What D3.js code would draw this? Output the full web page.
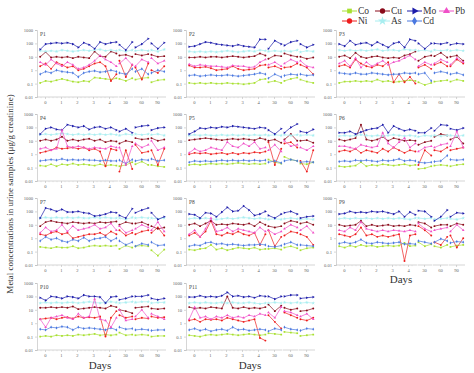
<!DOCTYPE html>
<html>
<head>
<meta charset="utf-8">
<script src="https://cdn.jsdelivr.net/npm/d3@7"></script>
<style>
  body { margin: 0; background: #fff; }
  svg { display: block; }
</style>
</head>
<body>
<svg id="chart" width="474" height="373"></svg>
<script>
// metals, drawn in this order
const metals = ["Co", "Ni", "Cu", "As", "Mo", "Cd", "Pb"];
const metalColors = ["#a8e030", "#ee1c1c", "#8a0a1a", "#a8eef0", "#1c1caa", "#4a78e0", "#f050c8"];

// sample positions on the broken day axis (0..4 days, then 30, 60, 90)
const samplePos = [-0.3, 0.04, 0.38, 0.72, 1.06, 1.4, 1.74, 2.08, 2.42, 2.76, 3.1, 3.44, 3.78, 4.12, 4.46,
  4.65, 5.05, 5.45, 5.65, 6.05, 6.45, 6.65, 7.05, 7.45];
const segments = [[0, 15], [15, 18], [18, 21], [21, 24]];
const dayTicks = [0, 1, 2, 3, 4, 5, 6, 7];
const dayLabels = ["0", "1", "2", "3", "4", "30", "60", "90"];
const concTicks = [0.01, 0.1, 1, 10, 100, 1000];
const panelNames = ["P1", "P2", "P3", "P4", "P5", "P6", "P7", "P8", "P9", "P10", "P11"];

// log10 of concentration, rows: Co, Ni, Cu, As, Mo, Cd, Pb
const P1 = [
  [-0.95,-0.8,-0.85,-0.75,-0.65,-0.75,-0.85,-0.9,-0.8,-0.85,-0.55,-0.6,-0.65,-0.7,-0.6, -0.65,-0.8,-0.6, -0.7,-0.6,-0.55, -0.9,-0.75,-0.7],
  [0.3,0.5,0.1,0.6,0.4,0.2,0.3,0.0,0.1,0.3,0.5,0.6,0.3,-0.8,-0.3, 0.7,-0.5,0.4, 0.2,-0.7,0.5, 0.0,-0.2,0.3],
  [1.0,1.35,0.95,1.0,0.95,1.0,0.9,1.0,0.95,0.9,1.4,1.05,1.0,1.4,1.25, 1.1,1.15,1.0, 1.2,1.1,1.2, 1.15,1.0,1.05],
  [1.45,1.4,1.45,1.4,1.5,1.45,1.4,1.45,1.5,1.45,1.5,1.55,1.45,1.5,1.45, 1.5,1.4,1.5, 1.45,1.5,1.45, 1.5,1.4,1.55],
  [1.55,1.95,2.0,2.05,2.0,2.05,1.95,1.7,2.05,1.9,1.6,2.1,1.95,2.05,2.1, 1.9,1.5,2.1, 1.7,1.95,2.35, 2.0,1.6,2.05],
  [-0.3,-0.1,-0.2,0.0,-0.1,-0.15,-0.2,-0.5,-0.2,-0.1,-0.05,-0.15,-0.1,0.0,-0.1, -0.2,-0.3,0.1, -0.1,0.1,-0.3, -0.2,0.0,-0.1],
  [0.6,0.4,0.8,0.5,0.3,0.6,0.4,0.1,0.2,0.4,0.7,1.1,0.8,0.6,0.3, 0.5,0.9,0.4, 0.3,0.8,0.6, 0.9,0.5,0.7]
];
const P2 = [
  [-0.95,-1.0,-0.95,-1.0,-0.95,-1.0,-1.0,-0.95,-1.0,-1.0,-1.05,-1.0,-0.95,-0.7,-0.65, -0.9,-0.8,-0.95, -0.8,-0.65,-0.55, -0.7,-0.85,-0.95],
  [0.35,0.2,0.2,0.25,0.15,0.0,0.05,0.1,0.3,0.1,0.0,0.05,0.1,0.35,0.4, 0.2,0.3,0.1, 0.2,0.25,0.5, 0.4,0.2,-0.3],
  [0.95,0.95,1.0,0.95,1.0,1.0,0.95,1.0,1.05,1.0,0.95,1.0,1.05,1.25,1.1, 0.85,1.1,1.05, 1.25,1.1,1.0, 1.0,0.85,0.95],
  [1.4,1.35,1.4,1.35,1.4,1.35,1.4,1.45,1.4,1.35,1.4,1.45,1.4,1.5,1.45, 1.4,1.45,1.4, 1.45,1.4,1.5, 1.35,1.45,1.4],
  [1.75,1.8,1.95,2.1,2.05,1.95,1.9,1.85,1.8,1.9,1.8,1.75,1.7,2.3,2.3, 1.6,2.2,1.95, 1.85,2.1,2.2, 1.95,1.7,1.9],
  [-0.4,-0.35,-0.45,-0.4,-0.35,-0.4,-0.4,-0.35,-0.4,-0.45,-0.4,-0.35,-0.3,-0.2,-0.3, -0.6,-0.3,-0.5, -0.4,-0.3,-0.35, -0.3,-0.4,-0.35],
  [0.45,0.3,0.4,0.35,0.3,0.3,0.25,0.2,0.35,0.3,0.3,0.2,0.25,0.6,0.8, 0.4,0.6,0.3, 0.5,0.8,0.6, 0.7,0.3,0.2]
];
const P3 = [
  [-0.95,-0.85,-0.85,-0.8,-0.85,-0.8,-0.85,-0.7,-0.85,-0.8,-0.9,-0.85,-0.8,-0.75,-0.8, -0.9,-1.1,-0.95, -0.85,-0.8,-0.75, -0.85,-0.7,-0.8],
  [0.3,0.4,0.2,0.8,0.5,0.3,0.2,0.4,0.3,0.6,-0.9,-0.3,-0.9,-0.5,-1.0, 0.2,0.4,0.1, 0.4,0.6,0.3, 0.3,0.8,0.5],
  [1.0,1.1,0.9,1.3,1.0,0.9,1.0,1.05,0.95,0.9,0.95,0.9,1.1,1.2,1.4, 0.7,1.0,1.1, 1.05,1.3,0.95, 1.0,1.1,0.7],
  [1.5,1.45,1.5,1.45,1.5,1.45,1.5,1.55,1.45,1.5,1.5,1.45,1.55,1.5,1.5, 1.45,1.5,1.4, 1.5,1.45,1.5, 1.45,1.5,1.45],
  [1.95,1.8,2.2,1.9,2.0,2.05,1.85,2.1,1.9,1.7,2.0,2.1,1.7,2.3,2.2, 2.0,1.6,2.0, 2.0,1.95,2.05, 1.9,2.0,1.95],
  [-0.2,-0.25,-0.3,-0.2,-0.3,-0.3,-0.2,-0.25,-0.3,-0.35,-0.3,-0.3,-0.2,-0.25,-0.2, -0.3,-0.2,-0.8, -0.2,-0.1,-0.2, -0.3,-0.2,-0.35],
  [0.5,0.7,0.3,0.9,0.2,0.6,0.3,0.5,0.7,0.4,0.6,0.7,0.9,1.1,0.8, 0.3,0.6,0.4, 0.5,0.8,0.6, 0.4,0.9,0.6]
];
const P4 = [
  [-0.85,-0.9,-0.75,-0.9,-0.75,-0.8,-0.7,-0.8,-0.75,-0.8,-0.85,-0.75,-0.85,-0.8,-0.85, -0.9,-0.8,-0.6, -0.75,-0.55,-0.8, -0.8,-0.9,-0.95],
  [0.1,0.2,0.3,0.5,0.4,0.45,0.5,0.4,0.5,0.3,0.4,0.2,-0.9,0.4,0.3, -1.3,0.3,-1.1, 0.7,0.1,0.2, 0.3,-0.8,0.4],
  [1.0,1.1,1.0,1.1,1.3,1.0,1.1,1.0,1.1,1.15,1.0,1.1,0.9,1.0,0.95, 0.8,1.0,0.9, 1.2,1.1,1.15, 1.2,1.0,1.1],
  [1.45,1.5,1.45,1.5,1.55,1.5,1.45,1.5,1.45,1.5,1.45,1.5,1.45,1.5,1.45, 1.4,1.5,1.45, 1.5,1.45,1.5, 1.45,1.5,1.4],
  [1.5,1.9,2.0,1.85,1.8,2.2,2.1,2.0,2.1,1.85,2.0,2.05,1.9,2.0,1.8, 1.7,1.9,1.6, 2.0,2.1,2.15, 1.8,1.95,2.0],
  [-0.5,-0.45,-0.4,-0.45,-0.35,-0.45,-0.4,-0.45,-0.4,-0.45,-0.45,-0.5,-0.45,-0.5,-0.5, -0.45,-0.7,-0.4, -0.5,-0.4,-0.45, -0.35,-0.5,-0.45],
  [0.4,0.5,0.3,0.4,1.8,0.6,0.5,0.6,0.5,0.4,0.5,0.45,0.4,0.6,0.5, 0.5,-0.8,0.6, 0.8,0.5,0.7, 1.0,0.3,0.5]
];
const P5 = [
  [-0.8,-0.75,-0.8,-0.75,-0.7,-0.75,-0.7,-0.75,-0.7,-0.65,-0.7,-0.75,-0.7,-0.75,-0.7, -0.4,-0.6,-0.7, -0.2,-0.4,-0.5, -0.7,-0.75,-0.6],
  [0.0,0.1,0.05,0.1,0.0,0.05,0.1,0.0,0.1,0.0,0.1,0.05,0.15,0.1,0.2, 0.9,-0.8,0.4, 0.8,0.9,0.5, -0.5,-1.3,0.3],
  [1.05,1.1,1.15,1.2,1.15,1.1,1.05,1.1,1.15,1.1,1.15,1.1,1.05,1.2,1.1, 1.0,1.1,0.85, 1.1,1.5,1.0, 1.0,1.05,0.85],
  [1.4,1.45,1.4,1.45,1.4,1.4,1.45,1.4,1.45,1.4,1.45,1.4,1.45,1.4,1.45, 1.4,1.45,1.4, 1.45,1.4,1.45, 1.4,1.45,1.4],
  [1.5,1.7,1.95,1.9,2.0,1.95,2.05,2.0,2.1,2.05,2.0,1.95,1.9,2.0,1.95, 1.8,1.5,1.9, 1.6,2.0,2.25, 1.7,1.6,1.85],
  [-0.6,-0.5,-0.55,-0.5,-0.55,-0.5,-0.45,-0.5,-0.45,-0.5,-0.45,-0.5,-0.45,-0.5,-0.45, -0.6,-0.5,-0.65, -0.5,-0.4,-0.5, -0.6,-0.55,-0.6],
  [0.1,0.4,0.2,0.3,0.5,0.4,0.3,0.9,0.6,0.5,0.8,0.6,0.9,0.4,0.5, 0.3,0.7,0.2, 1.0,0.6,0.7, 0.5,0.3,0.6]
];
const P6 = [
  [-0.9,-0.95,-0.9,-0.85,-0.6,-0.9,-0.8,-0.85,-0.75,-0.8,-0.85,-0.8,-0.75,-0.85,-0.8, -1.1,-1.05,-0.9, -0.85,-0.8,-0.85, -0.9,-0.8,-0.75],
  [0.2,0.3,0.2,0.4,0.1,0.3,0.2,0.1,0.4,0.2,0.5,0.3,0.1,0.3,0.2, -0.8,0.3,-0.1, 0.3,0.2,0.5, 0.3,0.4,0.5],
  [1.1,1.0,1.1,1.2,2.2,1.1,1.0,1.1,1.3,1.0,1.2,1.1,1.0,1.05,1.0, 0.7,0.9,1.0, 1.3,1.5,1.4, 1.1,1.3,0.8],
  [1.35,1.4,1.35,1.4,1.45,1.4,1.35,1.4,1.35,1.4,1.45,1.4,1.35,1.4,1.35, 1.3,1.4,1.35, 1.4,1.35,1.4, 1.4,1.35,1.4],
  [1.6,1.6,1.7,1.5,1.65,1.8,1.9,1.95,2.2,1.6,2.1,1.9,1.75,1.85,1.75, 1.6,1.6,1.95, 1.75,2.2,2.15, 1.9,1.8,1.95],
  [-0.55,-0.5,-0.55,-0.45,-0.5,-0.45,-0.5,-0.55,-0.45,-0.5,-0.45,-0.35,-0.5,-0.45,-0.5, -0.6,-0.65,-0.6, -0.55,-0.5,-0.1, -0.4,-0.45,-0.4],
  [0.6,0.6,0.5,0.4,0.7,0.6,0.5,0.6,1.6,0.8,0.5,0.9,1.2,0.5,0.8, 0.2,0.5,0.6, 0.5,0.7,0.8, 0.6,1.7,0.5]
];
const P7 = [
  [-0.65,-0.7,-0.75,-0.65,-0.7,-0.7,-0.6,-0.75,-0.7,-0.6,-0.55,-0.6,-0.55,-0.6,-0.55, -0.8,-0.55,-0.7, -0.6,-0.55,-0.6, -0.9,-1.3,-0.85],
  [0.3,0.2,0.4,0.5,0.3,0.4,0.0,0.1,0.2,0.3,0.3,0.4,0.2,0.5,0.3, 0.6,0.2,0.4, 0.3,0.5,0.6, 0.4,0.8,0.2],
  [0.9,1.2,1.3,1.2,1.15,1.1,1.2,1.15,1.1,1.15,1.1,1.2,1.15,1.2,1.25, 1.0,1.2,1.1, 1.1,1.2,1.0, 0.9,0.7,0.8],
  [1.5,1.55,1.5,1.55,1.5,1.55,1.5,1.55,1.5,1.5,1.55,1.5,1.55,1.5,1.5, 1.5,1.4,1.55, 1.5,1.55,1.5, 1.5,1.45,1.5],
  [1.5,2.25,2.15,2.0,2.15,1.95,1.95,2.0,1.9,1.85,1.65,1.7,1.8,1.95,1.9, 1.7,1.5,2.2, 1.9,2.1,2.25, 1.9,1.4,1.6],
  [-0.2,0.1,-0.1,0.0,-0.2,-0.3,-0.1,-0.2,0.05,-0.2,-0.05,0.0,0.1,-0.2,0.0, -0.2,-0.5,-0.3, -0.6,-0.4,-0.5, -0.3,-0.55,-0.5],
  [0.4,0.8,0.5,0.6,1.0,0.5,0.9,0.6,0.7,0.8,1.0,0.7,0.8,1.1,0.6, 0.9,0.4,0.6, 0.7,1.0,0.8, 0.6,1.2,0.5]
];
const P8 = [
  [-0.85,-0.9,-0.8,-0.75,-0.5,-0.85,-0.75,-0.9,-0.8,-0.7,-0.75,-0.8,-0.7,-0.85,-0.8, -0.8,-0.75,-0.85, -0.7,-0.6,-0.75, -0.9,-0.75,-0.7],
  [0.2,0.4,0.1,0.5,1.3,0.3,0.2,0.4,0.3,0.5,0.3,0.2,0.4,-0.5,0.3, 0.6,-0.6,0.1, 0.2,0.5,0.4, 0.3,0.1,-0.5],
  [1.0,1.1,0.9,1.1,1.3,1.0,1.05,1.0,1.1,1.05,1.0,1.1,0.9,1.2,1.0, 0.9,0.8,0.9, 1.1,1.3,1.2, 1.1,1.2,1.0],
  [1.45,1.5,1.45,1.5,1.45,1.4,1.45,1.5,1.45,1.5,1.55,1.5,1.45,1.5,1.45, 1.4,1.45,1.4, 1.45,1.5,1.45, 1.4,1.45,1.4],
  [1.8,1.75,1.5,1.9,1.85,1.6,1.95,2.3,2.0,2.05,2.4,2.1,1.7,1.8,2.0, 1.7,1.5,1.8, 1.9,2.0,1.8, 1.5,1.6,1.65],
  [-0.6,-0.5,-0.55,-0.35,-0.3,-0.45,-0.4,-0.5,-0.45,-0.5,-0.55,-0.5,-0.5,-0.45,-0.5, -0.6,-0.65,-0.55, -0.45,-0.3,-0.5, -0.5,-0.55,-0.6],
  [0.3,0.6,0.1,0.7,1.5,0.5,0.6,0.8,0.5,0.7,0.6,0.5,0.4,0.8,0.5, 0.6,0.3,0.5, 0.7,1.0,0.8, 0.6,0.9,0.4]
];
const P9 = [
  [-0.6,-0.7,-0.55,-0.65,-0.5,-0.6,-0.55,-0.65,-0.6,-0.55,-0.6,-0.55,-0.35,-0.6,-0.55, -0.3,-0.6,-0.45, -0.6,-0.7,-0.5, -0.65,-0.55,-0.5],
  [0.3,0.2,0.1,0.3,0.8,0.2,0.3,0.1,0.2,0.1,0.2,0.3,-1.7,0.2,0.3, 0.9,0.6,0.2, -0.3,-0.5,0.1, 0.2,-0.7,0.0],
  [1.0,0.9,0.95,1.0,1.3,0.9,1.0,0.9,0.95,1.0,0.9,0.95,0.9,1.0,0.95, 1.2,1.1,0.8, 0.9,1.0,1.0, 0.9,1.1,1.0],
  [1.45,1.5,1.45,1.5,1.45,1.5,1.45,1.5,1.45,1.5,1.45,1.5,1.45,1.4,1.5, 1.5,1.45,1.5, 1.4,1.45,1.5, 1.45,1.4,1.5],
  [1.8,1.85,2.0,1.9,1.95,1.9,2.0,1.95,2.0,1.9,1.8,2.0,1.6,1.95,1.75, 2.05,2.0,1.6, 1.3,1.6,2.1, 1.6,1.9,1.85],
  [-0.4,-0.3,-0.4,-0.3,-0.1,-0.35,-0.4,-0.3,-0.35,-0.4,-0.35,-0.3,-0.45,-0.4,-0.45, -0.2,-0.3,-0.4, -0.3,-0.05,-0.2, -0.35,-0.25,-0.3],
  [0.6,0.5,0.8,0.6,1.2,0.7,0.6,0.5,0.6,0.5,0.6,0.55,0.5,0.6,0.5, 1.1,0.7,0.5, 0.6,0.7,0.8, 0.5,1.0,0.6]
];
const P10 = [
  [-1.0,-0.95,-1.0,-0.9,-0.95,-0.9,-0.95,-0.85,-0.9,-0.85,-0.8,-0.9,-0.85,-0.9,-0.85, -0.7,-0.9,-0.85, -0.9,-0.85,-0.9, -1.0,-0.95,-0.95],
  [0.3,0.35,0.4,0.3,0.4,0.45,0.35,0.5,0.4,0.45,0.4,0.5,-1.0,0.4,0.9, 0.6,0.4,0.5, 0.3,0.4,0.35, 0.5,0.4,0.45],
  [1.15,1.15,1.2,1.15,1.2,1.15,1.25,1.05,1.1,1.15,1.2,1.15,1.1,1.3,1.2, 1.0,0.9,0.75, 1.15,1.2,1.25, 1.1,1.05,1.1],
  [1.5,1.55,1.5,1.55,1.5,1.55,1.55,1.5,1.55,1.6,1.55,1.5,1.55,1.6,1.55, 1.5,1.55,1.6, 1.55,1.6,1.6, 1.5,1.55,1.55],
  [1.9,1.7,2.0,1.95,1.85,2.0,1.95,1.85,2.1,2.0,2.0,1.95,1.5,1.95,2.0, 1.75,1.85,2.0, 2.0,2.0,2.1, 1.85,1.75,1.85],
  [-0.45,-0.5,-0.3,-0.35,-0.25,-0.3,-0.5,-0.3,-0.4,-0.35,-0.4,-0.45,-0.5,-0.35,-0.5, -0.3,-0.45,-0.4, -0.5,-0.45,-0.5, -0.55,-0.5,-0.5],
  [0.3,-0.3,0.4,0.5,0.6,0.4,0.3,0.7,0.4,0.5,1.8,0.3,0.2,-0.3,0.4, 1.0,0.2,0.3, 0.5,1.0,0.4, 0.7,0.5,0.3]
];
const P11 = [
  [-0.9,-0.95,-1.0,-0.9,-0.85,-0.9,-0.85,-0.8,-0.85,-0.9,-0.85,-0.8,-0.85,-0.9,-0.85, -0.75,-0.8,-0.85, -0.65,-0.7,-0.75, -0.95,-0.9,-0.85],
  [0.2,0.3,0.1,0.3,0.25,0.3,0.2,0.4,0.3,0.2,0.1,0.2,0.3,-1.1,-1.3, 0.6,0.1,-0.4, 0.8,0.6,0.4, 0.3,0.2,0.4],
  [1.2,1.1,1.15,1.1,1.2,1.15,1.1,2.0,1.15,1.1,1.2,1.1,1.15,1.1,1.2, 1.4,0.9,1.3, 1.15,1.0,1.1, 0.9,0.95,1.1],
  [1.5,1.55,1.5,1.55,1.5,1.5,1.55,1.5,1.55,1.5,1.5,1.55,1.5,1.45,1.5, 1.5,1.55,1.5, 1.55,1.5,1.55, 1.5,1.55,1.5],
  [1.95,1.95,2.05,1.95,2.0,1.95,2.05,2.3,2.0,2.05,1.95,2.0,1.9,2.05,2.0, 2.0,1.8,2.0, 2.0,2.1,2.1, 1.85,1.9,1.95],
  [-0.5,-0.4,-0.55,-0.45,-0.6,-0.5,-0.45,-0.55,-0.3,-0.5,-0.45,-0.55,-0.5,-0.45,-0.5, -0.6,-0.4,-0.5, -0.3,-0.45,-0.5, -0.55,-0.4,-0.45],
  [0.3,1.2,0.4,0.5,0.3,0.5,0.4,0.6,0.4,0.5,0.4,0.6,0.5,0.7,0.6, 0.8,0.4,1.2, 0.9,0.8,0.6, 0.5,0.7,0.3]
];
const panels = [P1, P2, P3, P4, P5, P6, P7, P8, P9, P10, P11];

const svg = d3.select("#chart");
const colLeft = [37, 186, 336], rowTop = [30, 114, 198, 283];
const pw = 129, ph = 67;

const symbolOf = [d3.symbolSquare, d3.symbolCircle, d3.symbolCircle, d3.symbolStar,
  d3.symbolTriangle, d3.symbolDiamond, d3.symbolTriangle];
const rotOf = [0, 0, 0, 0, 90, 0, 0];

panels.forEach((data, pi) => {
  const x0 = colLeft[pi % 3], y0 = rowTop[Math.floor(pi / 3)];
  const g = svg.append("g").attr("transform", `translate(${x0},${y0})`);
  const x = d3.scaleLinear([-0.5, 7.56], [0, pw]);
  const y = d3.scaleLog([0.01, 1000], [ph, 0]);

  // left axis
  const ya = g.append("g").call(d3.axisLeft(y).tickValues(concTicks)
    .tickFormat(d => d >= 1 ? d3.format("d")(d) : String(d)).tickSize(2).tickPadding(2));
  ya.select(".domain").attr("stroke", "#bbb").attr("stroke-width", 0.6);
  ya.selectAll(".tick line").attr("stroke", "#bbb").attr("stroke-width", 0.6);
  ya.selectAll("text").attr("font-size", 4.6).attr("fill", "#666").attr("font-family", "Liberation Serif");

  // bottom axis, broken into day / 30 / 60 / 90 parts
  const breaks = [[-0.5, 4.56], [4.6, 5.52], [5.56, 6.52], [6.56, 7.56]];
  g.selectAll(".xb").data(breaks).join("line")
    .attr("x1", d => x(d[0])).attr("x2", d => x(d[1]))
    .attr("y1", ph).attr("y2", ph).attr("stroke", "#bbb").attr("stroke-width", 0.6);
  const xa = g.append("g").attr("transform", `translate(0,${ph})`)
    .call(d3.axisBottom(x).tickValues(dayTicks).tickFormat((d, i) => dayLabels[i]).tickSize(2).tickPadding(1.5));
  xa.select(".domain").remove();
  xa.selectAll(".tick line").attr("stroke", "#bbb").attr("stroke-width", 0.6);
  xa.selectAll("text").attr("font-size", 4.6).attr("fill", "#666").attr("font-family", "Liberation Serif");
  const minor = d3.range(-0.25, 4.5, 0.25).filter(v => !Number.isInteger(v));
  g.selectAll(".mt").data(minor).join("line")
    .attr("x1", d => x(d)).attr("x2", d => x(d)).attr("y1", ph).attr("y2", ph + 1.2)
    .attr("stroke", "#ccc").attr("stroke-width", 0.5);

  g.append("text").attr("x", 3).attr("y", 6).text(panelNames[pi])
    .attr("font-size", 5.5).attr("fill", "#444").attr("font-family", "Liberation Serif");

  const line = d3.line().x(d => x(d[0])).y(d => y(Math.pow(10, d[1])));
  metals.forEach((m, si) => {
    const pts = samplePos.map((p, i) => [p, data[si][i]]);
    segments.forEach(([a, b]) => {
      g.append("path").attr("d", line(pts.slice(a, b)))
        .attr("fill", "none").attr("stroke", metalColors[si]).attr("stroke-width", 0.7);
    });
    g.selectAll(null).data(pts).join("path")
      .attr("d", d3.symbol(symbolOf[si], si === 3 ? 4 : 3))
      .attr("transform", d => `translate(${x(d[0])},${y(Math.pow(10, d[1]))}) rotate(${rotOf[si]})`)
      .attr("fill", metalColors[si]);
  });
});

// legend
const legendX = [342, 375, 407, 439], legendY = [14, 24];
const legendOrder = [0, 2, 4, 6, 1, 3, 5]; // Co Cu Mo Pb / Ni As Cd
legendOrder.forEach((si, k) => {
  const lx = legendX[k % 4], ly = legendY[Math.floor(k / 4)];
  const lg = svg.append("g").attr("transform", `translate(${lx},${ly})`);
  lg.append("line").attr("x1", 0).attr("x2", 15).attr("y1", -3).attr("y2", -3)
    .attr("stroke", metalColors[si]).attr("stroke-width", 1);
  lg.append("path").attr("d", d3.symbol(symbolOf[si], si === 3 ? 26 : 22))
    .attr("transform", `translate(7.5,-3) rotate(${rotOf[si]})`).attr("fill", metalColors[si]);
  lg.append("text").attr("x", 16).attr("y", 0).text(metals[si])
    .attr("font-size", 9.5).attr("fill", "#333").attr("font-family", "Liberation Serif");
});

// axis titles
svg.append("text").attr("transform", "translate(13,194) rotate(-90)").attr("text-anchor", "middle")
  .text("Metal concentrations in urine samples (μg/g creatinine)")
  .attr("font-size", 9).attr("fill", "#333").attr("font-family", "Liberation Serif");
[[100, 369], [250, 369], [401, 283]].forEach(([tx, ty]) => {
  svg.append("text").attr("x", tx).attr("y", ty).attr("text-anchor", "middle").text("Days")
    .attr("font-size", 11).attr("fill", "#333").attr("font-family", "Liberation Serif");
});
</script>
</body>
</html>
